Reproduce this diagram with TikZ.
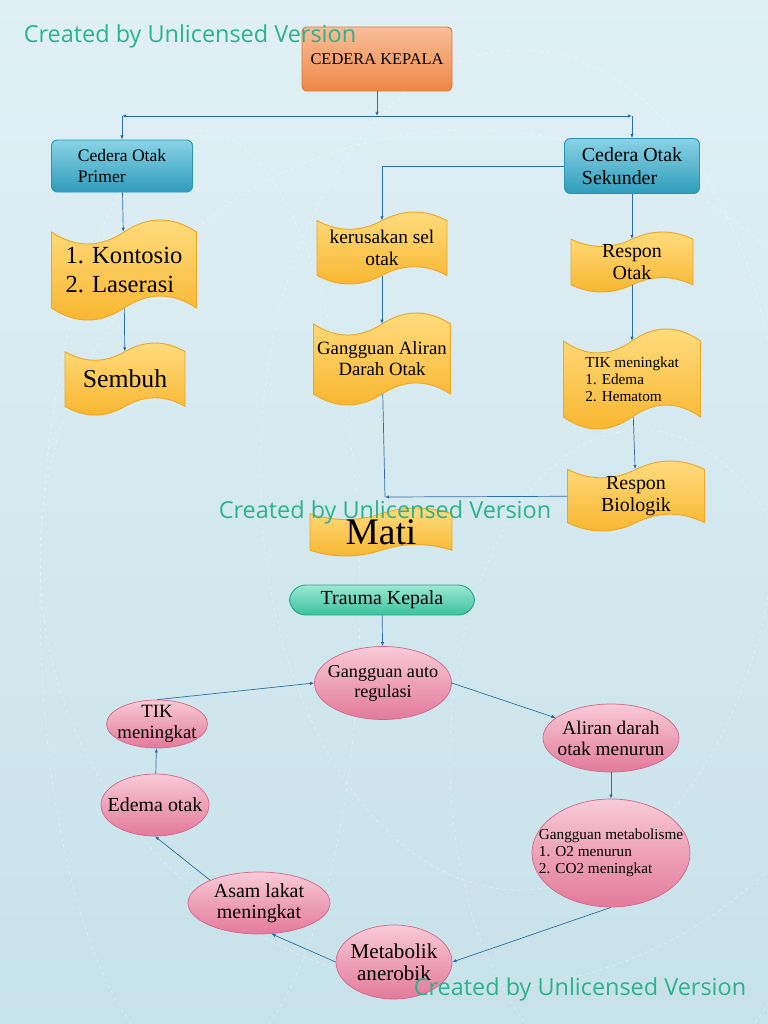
\documentclass[tikz,border=0pt]{standalone}
\usepackage{fontspec}
\setmainfont{Liberation Serif}
\newfontfamily\markfont{Open Sans}
\usetikzlibrary{arrows.meta,shapes.geometric}

\definecolor{bgtop}{HTML}{E0F0F5}
\definecolor{bgbot}{HTML}{C8E2EA}
\definecolor{linkblue}{HTML}{2E6EA6}
\definecolor{wavelight}{HTML}{FFDD80}
\definecolor{wavedark}{HTML}{F8B52E}
\definecolor{waveedge}{HTML}{F2A626}
\definecolor{tealtop}{HTML}{8AD3E6}
\definecolor{tealbot}{HTML}{2F9CBA}
\definecolor{tealedge}{HTML}{2B95B8}
\definecolor{orangetop}{HTML}{F9BE98}
\definecolor{orangebot}{HTML}{EE8747}
\definecolor{orangeedge}{HTML}{E5752F}
\definecolor{minttop}{HTML}{9BE8D2}
\definecolor{mintbot}{HTML}{3CC29E}
\definecolor{mintedge}{HTML}{26A886}
\definecolor{pinktop}{HTML}{F8CAD7}
\definecolor{pinkbot}{HTML}{E37A9B}
\definecolor{pinkedge}{HTML}{D6678A}
\definecolor{markgreen}{HTML}{2DB38C}

\newcommand{\txtsize}[2]{\fontsize{#1}{#2}\selectfont}

% wave (flag) box: name, centre, width, height, text options, text
\newcommand{\wavenode}[6]{%
  \path[shift={#2}, xscale=#3, yscale=#4, wavebody]
    (-0.5,-0.38) .. controls (-0.3333,-0.22) and (-0.1667,-0.22) .. (0,-0.38)
    .. controls (0.1667,-0.54) and (0.3333,-0.54) .. (0.5,-0.38)
    -- (0.5,0.38) .. controls (0.3333,0.22) and (0.1667,0.22) .. (0,0.38)
    .. controls (-0.1667,0.54) and (-0.3333,0.54) .. (-0.5,0.38) -- cycle;
  \node[wavetext, minimum width=#3*0.03cm, minimum height=0.76*#4*0.03cm, #5] (#1) at #2 {#6};
}

% oval: name, centre, width, height, text options, text
\newcommand{\ovalnode}[6]{%
  \node[pinkoval, minimum width=#3*0.03cm, minimum height=#4*0.03cm] (#1) at #2 {};
  \node[ovaltext, #5] (#1text) at (#1) {#6};
}

\begin{document}
\begin{tikzpicture}[x=0.03cm, y={(0cm,-0.03cm)},
    link/.style={draw=linkblue, line width=0.6pt, -{Latex[length=3.5pt,width=3pt]}},
    deco/.style={draw=white, opacity=0.45, dashed, line width=0.5pt},
    wavebody/.style={top color=wavelight, bottom color=wavedark, draw=waveedge, line width=0.8pt},
    wavetext/.style={inner sep=0pt, text=black, align=center},
    tealbox/.style={rectangle, rounded corners=5pt, top color=tealtop, bottom color=tealbot,
      draw=tealedge, line width=0.8pt, inner sep=0pt, align=left},
    pinkoval/.style={ellipse, top color=pinktop, bottom color=pinkbot, draw=pinkedge,
      line width=0.6pt, inner sep=0pt},
    ovaltext/.style={inner sep=0pt, text=black, align=center},
    watermark/.style={text=markgreen, font=\markfont\fontsize{20pt}{24pt}\selectfont, inner sep=0pt}]

  % background
  \useasboundingbox (0,0) rectangle (768,1024);
  \fill[top color=bgtop, bottom color=bgbot] (0,0) rectangle (768,1024);
  \draw[deco] (470,560) circle (430);
  \draw[deco] (520,470) ellipse (260 and 420);
  \draw[deco] (200,600) ellipse (160 and 470);
  \draw[deco] (640,760) ellipse (190 and 330);

  % upper chart
  \node[rectangle, rounded corners=4pt, top color=orangetop, bottom color=orangebot,
    draw=orangeedge, line width=0.8pt, minimum width=150*0.03cm, minimum height=64*0.03cm,
    font=\txtsize{14pt}{16pt}] (kepala) at (377,59) {CEDERA KEPALA};
  \node[tealbox, minimum width=141*0.03cm, minimum height=52*0.03cm,
    font=\txtsize{15pt}{18pt}] (primer) at (122,166) {Cedera Otak\\Primer};
  \node[tealbox, minimum width=135*0.03cm, minimum height=55*0.03cm,
    font=\txtsize{17pt}{19.5pt}] (sekunder) at (632,166) {Cedera Otak\\Sekunder};

  \wavenode{kontosio}{(124,270)}{145}{100}{font=\txtsize{21pt}{24.5pt}, align=left}{1. Kontosio\\2. Laserasi}
  \wavenode{sembuh}{(125,379)}{120}{72}{font=\txtsize{22pt}{25pt}}{Sembuh}
  \wavenode{kerusakan}{(382,248)}{130}{72}{font=\txtsize{16.5pt}{18.7pt}}{kerusakan sel\\otak}
  \wavenode{aliran}{(382,359)}{137}{92}{font=\txtsize{16pt}{18pt}}{Gangguan Aliran\\Darah Otak}
  \wavenode{mati}{(381,532)}{142}{48}{font=\txtsize{32pt}{36pt}}{Mati}
  \wavenode{responotak}{(632,262)}{122}{60}{font=\txtsize{17pt}{18.7pt}}{Respon\\Otak}
  \wavenode{tikwave}{(632,379)}{137}{100}{font=\txtsize{13pt}{14.5pt}, align=left}{TIK meningkat\\1. Edema\\2. Hematom}
  \wavenode{biologik}{(636,496)}{137}{70}{font=\txtsize{17pt}{18.7pt}}{Respon\\Biologik}

  \coordinate (split) at (377,116);
  \coordinate (splitleft) at (122,116);
  \coordinate (splitright) at (632,116);
  \coordinate (meet) at (385,497);

  \draw[link] (kepala) -- (split);
  \draw[link, {Latex[length=3.5pt,width=3pt]}-{Latex[length=3.5pt,width=3pt]}] (splitleft) -- (splitright);
  \draw[link] (splitleft) -- (primer);
  \draw[link] (splitright) -- (sekunder);
  \draw[link] (primer) -- (kontosio);
  \draw[link] (kontosio) -- (sembuh);
  \draw[link] (sekunder.west) -| (kerusakan);
  \draw[link] (kerusakan) -- (aliran);
  \draw[draw=linkblue, line width=0.6pt] (aliran) -- (meet);
  \draw[link] (sekunder) -- (responotak);
  \draw[link] (responotak) -- (tikwave);
  \draw[link] (tikwave) -- (biologik);
  \draw[link] (biologik) -- (meet);

  % lower cycle
  \node[rectangle, rounded corners=14pt, top color=minttop, bottom color=mintbot,
    draw=mintedge, line width=0.8pt, minimum width=185*0.03cm, minimum height=30*0.03cm,
    inner sep=0pt, font=\txtsize{17pt}{19pt}] (trauma) at (382,600) {Trauma Kepala};

  \ovalnode{autoreg}{(383,683)}{137}{73}{font=\txtsize{15.5pt}{17pt}}{Gangguan auto\\regulasi}
  \ovalnode{darah}{(611,738)}{136}{68}{font=\txtsize{16.5pt}{18pt}}{Aliran darah\\otak menurun}
  \ovalnode{metabolisme}{(611,853)}{158}{108}{font=\txtsize{13pt}{14.5pt}, align=left}{Gangguan metabolisme\\1. O2 menurun\\2. CO2 meningkat}
  \ovalnode{anerobik}{(394,962)}{116}{74}{font=\txtsize{18pt}{18.7pt}}{Metabolik\\anerobik}
  \ovalnode{asam}{(259,903)}{142}{62}{font=\txtsize{17pt}{18pt}}{Asam lakat\\meningkat}
  \ovalnode{edema}{(155,805)}{108}{62}{font=\txtsize{17pt}{19pt}}{Edema otak}
  \ovalnode{tikoval}{(157,724)}{101}{48}{font=\txtsize{16pt}{18pt}}{TIK\\meningkat}

  \draw[link] (trauma) -- (autoreg);
  \draw[link] (autoreg.east) -- (darah.160);
  \draw[link] (darah) -- (metabolisme);
  \draw[link] (metabolisme.south) -- (anerobik.east);
  \draw[link] (anerobik.west) -- (asam.-68);
  \draw[link] (asam.155) -- (edema.south);
  \draw[link] (edema) -- (tikoval);
  \draw[link] (tikoval.north) -- (autoreg.west);

  % watermarks
  \node[watermark] (markone) at (190,36) {Created by Unlicensed Version};
  \node[watermark] (marktwo) at (385,512) {Created by Unlicensed Version};
  \node[watermark] (markthree) at (580,989) {Created by Unlicensed Version};
\end{tikzpicture}
\end{document}
